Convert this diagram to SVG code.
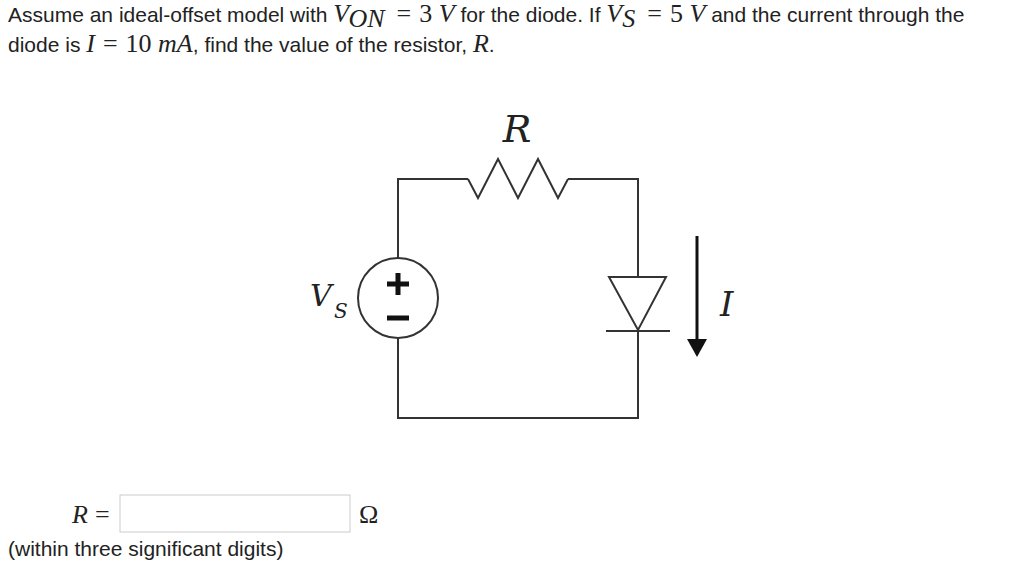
<svg xmlns="http://www.w3.org/2000/svg" width="1024" height="578" viewBox="0 0 1024 578">
<style>
.t{font-family:"Liberation Sans",Arial,sans-serif;font-size:21px;fill:#222}
.m{font-family:"Liberation Serif","DejaVu Serif",serif;font-size:26px;fill:#222}
.w{fill:none;stroke:#333;stroke-width:2}
.lbl{font-family:"DejaVu Serif","Liberation Serif",serif;font-style:italic;fill:#222}
</style>
<rect width="1024" height="578" fill="#fff"/>
<text class="t" x="8" y="22">Assume an ideal-offset model with <tspan class="m" font-style="italic">V</tspan><tspan class="m" font-style="italic" font-size="18" dy="5">ON</tspan><tspan class="m" dy="-5" dx="12">=</tspan><tspan class="m" dx="8">3 </tspan><tspan class="m" font-style="italic">V</tspan> for the diode. If <tspan class="m" font-style="italic">V</tspan><tspan class="m" font-style="italic" font-size="18" dy="5">S</tspan><tspan class="m" dy="-5" dx="12">=</tspan><tspan class="m" dx="8">5 </tspan><tspan class="m" font-style="italic">V</tspan> and the current through the</text>
<text class="t" x="8" y="52">diode is <tspan class="m" font-style="italic">I</tspan><tspan class="m" dx="8">=</tspan><tspan class="m" dx="8">10 </tspan><tspan class="m" font-style="italic">mA</tspan>, find the value of the resistor, <tspan class="m" font-style="italic">R</tspan>.</text>
<g id="connectors">
<polyline class="w" points="398,258 398,179 468,179"/>
<polyline class="w" points="568,179 638,179 638,277"/>
<polyline class="w" points="638,331 638,418 398,418 398,338"/>
</g>
<g id="resistor">
<polyline class="w" points="468,179 478,198 498,159 518,198 538,159 558,198 568,179"/>
<text class="lbl" x="517" y="142" font-size="38" text-anchor="middle">R</text>
</g>
<g id="source">
<circle class="w" cx="398" cy="298" r="40"/>
<path d="M387,284 H409 M398,273 V295 M387,318 H409" stroke="#111" stroke-width="5" fill="none"/>
<text class="lbl" x="310" y="306" font-size="30">V</text>
<text class="lbl" x="334" y="318" font-size="20">S</text>
</g>
<g id="diode">
<polygon class="w" points="609,277 666,277 638,330"/>
<line class="w" x1="606" y1="331" x2="670" y2="331"/>
</g>
<g id="current">
<line x1="697" y1="236" x2="697" y2="342" stroke="#111" stroke-width="3"/>
<polygon points="687,339 707,339 697,357" fill="#111"/>
<text class="lbl" x="720" y="316" font-size="34">I</text>
</g>
<text class="m" x="72" y="523" font-style="italic">R</text><text class="m" x="95" y="523">=</text>
<rect x="120" y="495" width="230" height="37" fill="#fff" stroke="#ccc"/>
<text class="m" x="359" y="523">Ω</text>
<text class="t" x="8" y="556">(within three significant digits)</text>
</svg>
